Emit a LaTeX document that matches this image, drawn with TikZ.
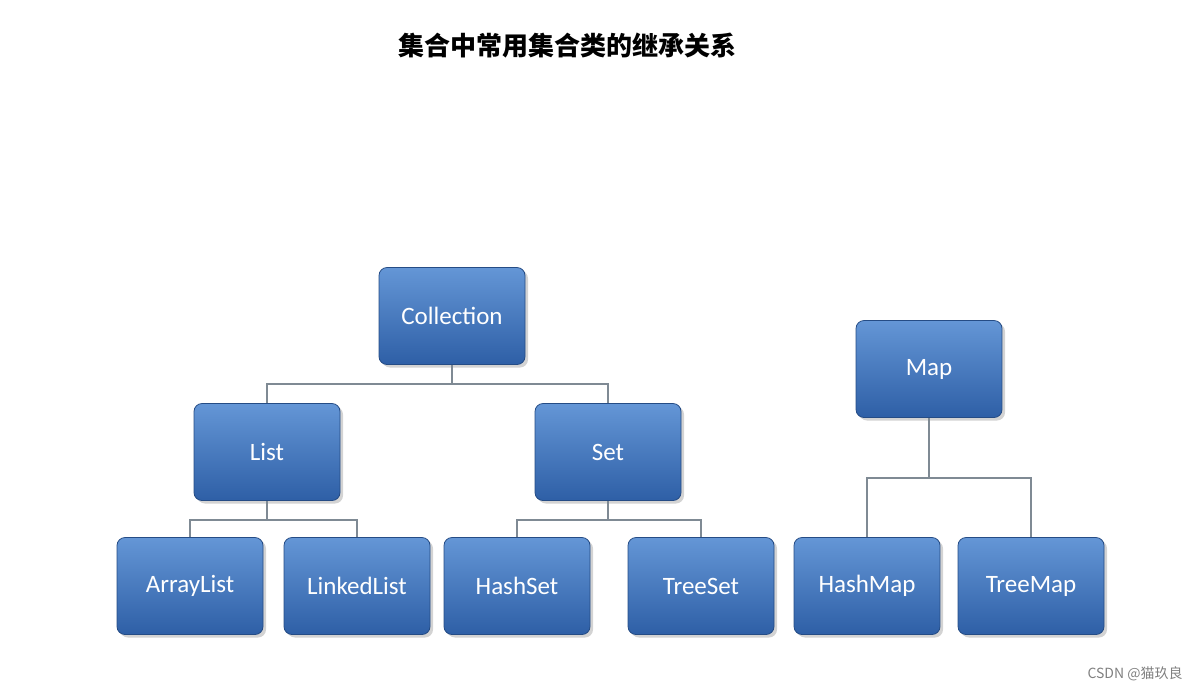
\documentclass[tikz,border=0pt]{standalone}
\usepackage{fontspec}
\setmainfont{Carlito}
\newfontfamily\cjk{Noto Sans CJK SC}
\usetikzlibrary{shadows}
\begin{document}
\begin{tikzpicture}[x=0.5pt,y=-0.5pt,
  box/.style={rounded corners=4pt, minimum width=73pt, minimum height=48.5pt,
    top color=boxtop, bottom color=boxbot, draw=boxbot!80!black, line width=0.4pt,
    text=white, font=\fontsize{12.5}{14}\selectfont,
    drop shadow={shadow xshift=1.5pt, shadow yshift=-1.5pt, opacity=0.35}},
  conn/.style={draw=linegray, line width=0.8pt}]
\definecolor{boxtop}{HTML}{6496D6}
\definecolor{boxbot}{HTML}{2E5FA6}
\definecolor{linegray}{HTML}{7F8A94}
\useasboundingbox (0,0) rectangle (1198,692);
\node[font=\cjk\bfseries\fontsize{13}{15}\selectfont] (title) at (567,46) {集合中常用集合类的继承关系};
\node[box] (c) at (452,316) {Collection};
\node[box] (l) at (267,452) {List};
\node[box] (s) at (608,452) {Set};
\node[box] (m) at (929,369) {Map};
\node[box] (al) at (190,586) {ArrayList};
\node[box] (ll) at (357,586) {LinkedList};
\node[box] (hs) at (517,586) {HashSet};
\node[box] (ts) at (701,586) {TreeSet};
\node[box] (hm) at (867,586) {HashMap};
\node[box] (tm) at (1031,586) {TreeMap};
\draw[conn] (c.south) -- (c.south |- 0,384);
\draw[conn] (l.north) |- (c.south |- 0,384) -| (s.north);
\draw[conn] (l.south) -- (l.south |- 0,520);
\draw[conn] (al.north) |- (l.south |- 0,520) -| (ll.north);
\draw[conn] (s.south) -- (s.south |- 0,520);
\draw[conn] (hs.north) |- (s.south |- 0,520) -| (ts.north);
\draw[conn] (m.south) -- (m.south |- 0,478);
\draw[conn] (hm.north) |- (m.south |- 0,478) -| (tm.north);
\node[text=gray, font=\cjk\fontsize{7}{8}\selectfont] (wm) at (1135,674) {CSDN @猫玖良};
\end{tikzpicture}
\end{document}
